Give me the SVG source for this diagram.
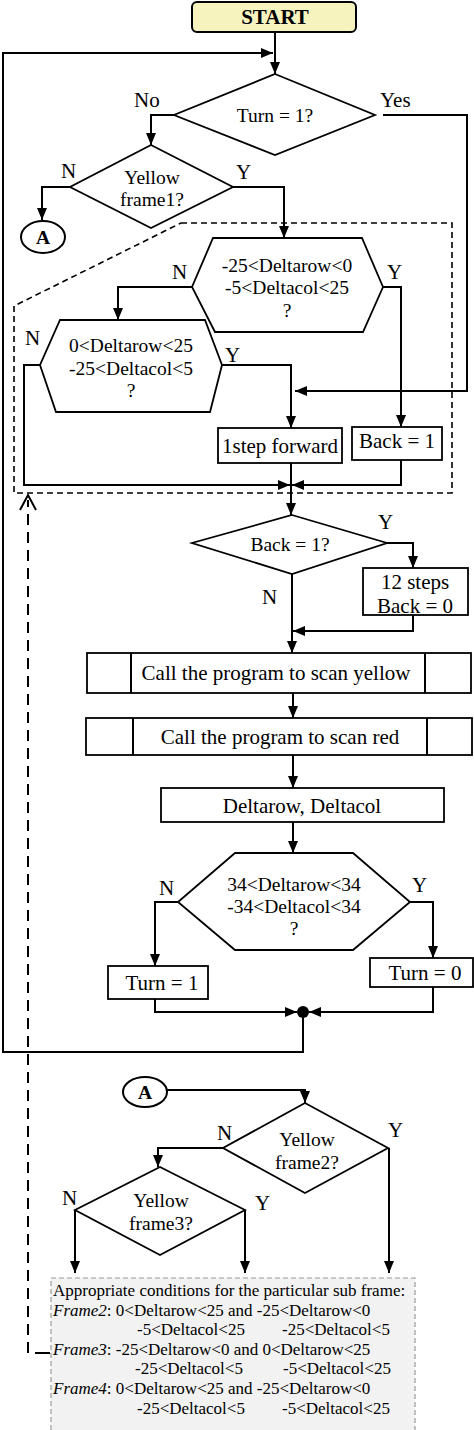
<svg xmlns="http://www.w3.org/2000/svg" width="474" height="1430" viewBox="0 0 474 1430">
<style>
.ln{stroke:#000;stroke-width:2;fill:none}
.sh{fill:#fff;stroke:#000;stroke-width:1.8}
text{font-family:"Liberation Serif","Times New Roman",serif;font-size:21px;fill:#000}
.c{text-anchor:middle}
.d{font-size:19.5px}
.s{font-size:17px}
.b{font-weight:bold}
</style>
<defs>
<marker id="ah" markerWidth="12" markerHeight="10" refX="12" refY="5" orient="auto" markerUnits="userSpaceOnUse"><path d="M0,0 L12,5 L0,10 z" fill="#000"/></marker>
</defs>
<rect width="474" height="1430" fill="#fff"/>

<g id="connectors">
<path class="ln" d="M275,32 V74" marker-end="url(#ah)"/>
<path class="ln" d="M303,1012 V1052 H3 V53 H273" marker-end="url(#ah)"/>
<path class="ln" d="M174,115 H151 V145" marker-end="url(#ah)"/>
<path class="ln" d="M383,115 H467 V391 H295" marker-end="url(#ah)"/>
<path class="ln" d="M70,187 H42 V220" marker-end="url(#ah)"/>
<path class="ln" d="M233,187 H284 V238" marker-end="url(#ah)"/>
<path class="ln" d="M192,287 H118 V320" marker-end="url(#ah)"/>
<path class="ln" d="M383,287 H401 V427" marker-end="url(#ah)"/>
<path class="ln" d="M222,365 H291 V428" marker-end="url(#ah)"/>
<path class="ln" d="M40,365 H24 V485 H290" marker-end="url(#ah)"/>
<path class="ln" d="M401,460 V485 H292" marker-end="url(#ah)"/>
<path class="ln" d="M291,463 V515" marker-end="url(#ah)"/>
<path class="ln" d="M387,543 H413 V568" marker-end="url(#ah)"/>
<path class="ln" d="M413,615 V631 H293" marker-end="url(#ah)"/>
<path class="ln" d="M292,574 V653" marker-end="url(#ah)"/>
<path class="ln" d="M293,693 V718" marker-end="url(#ah)"/>
<path class="ln" d="M293,755 V788" marker-end="url(#ah)"/>
<path class="ln" d="M293,822 V853" marker-end="url(#ah)"/>
<path class="ln" d="M178,902 H155 V966" marker-end="url(#ah)"/>
<path class="ln" d="M410,902 H433 V958" marker-end="url(#ah)"/>
<path class="ln" d="M155,999 V1012 H297" marker-end="url(#ah)"/>
<path class="ln" d="M433,987 V1012 H309" marker-end="url(#ah)"/>
<circle cx="303" cy="1012" r="6" fill="#000"/>
<path class="ln" d="M167,1090 H305 V1103" marker-end="url(#ah)"/>
<path class="ln" d="M223,1148 H158 V1167" marker-end="url(#ah)"/>
<path class="ln" d="M75,1210 V1273" marker-end="url(#ah)"/>
<path class="ln" d="M245,1210 V1273" marker-end="url(#ah)"/>
<path class="ln" d="M389,1148 V1273" marker-end="url(#ah)"/>
<path d="M50,1353 H35" stroke="#000" stroke-width="2" fill="none"/>
<path d="M28,1353 V500" stroke="#000" stroke-width="2" fill="none" stroke-dasharray="11,7"/>
<polyline points="20,510 28,495 36,510" stroke="#000" stroke-width="2" fill="none"/>
</g>

<g id="dashed-frame">
<polygon points="181,223 452,223 452,493 14,493 14,306" fill="none" stroke="#000" stroke-width="1.6" stroke-dasharray="6,4"/>
</g>

<g id="start">
<rect x="192" y="2" width="164" height="30" rx="5" fill="#f7f3bf" stroke="#000" stroke-width="2"/>
<text class="c b" x="275" y="24">START</text>
</g>

<g id="turn1">
<polygon class="sh" points="275,74 375,115 275,155 174,115"/>
<text class="c d" x="275" y="122">Turn = 1?</text>
<text x="134" y="107">No</text>
<text x="380" y="107">Yes</text>
</g>

<g id="yf1">
<polygon class="sh" points="151,145 233,187 151,228 70,187"/>
<text class="c d" x="152" y="184">Yellow</text>
<text class="c d" x="152" y="206">frame1?</text>
<text x="61" y="178">N</text>
<text x="236" y="179">Y</text>
</g>

<g id="connA1">
<ellipse cx="43" cy="237" rx="22" ry="16" fill="#fff" stroke="#000" stroke-width="2"/>
<text class="c b d" x="43" y="244">A</text>
</g>

<g id="hex1">
<polygon class="sh" points="213,238 362,238 383,287 363,332 215,332 192,287"/>
<text class="c d" x="287" y="272">-25&lt;Deltarow&lt;0</text>
<text class="c d" x="287" y="294">-5&lt;Deltacol&lt;25</text>
<text class="c d" x="287" y="317">?</text>
<text x="172" y="279">N</text>
<text x="387" y="279">Y</text>
</g>

<g id="hex2">
<polygon class="sh" points="60,320 205,320 222,365 210,412 56,412 40,365"/>
<text class="c d" x="131" y="352">0&lt;Deltarow&lt;25</text>
<text class="c d" x="131" y="375">-25&lt;Deltacol&lt;5</text>
<text class="c d" x="131" y="397">?</text>
<text x="25" y="345">N</text>
<text x="225" y="362">Y</text>
</g>

<g id="step1">
<rect class="sh" x="218" y="428" width="124" height="35"/>
<text class="c" x="280" y="453">1step forward</text>
</g>

<g id="back1">
<rect class="sh" x="352" y="427" width="90" height="33"/>
<text class="c" x="397" y="448">Back = 1</text>
</g>

<g id="backq">
<polygon class="sh" points="292,515 387,543 292,574 192,543"/>
<text class="c d" x="290" y="551">Back = 1?</text>
<text x="378" y="529">Y</text>
<text x="262" y="604">N</text>
</g>

<g id="steps12">
<rect class="sh" x="363" y="568" width="105" height="47"/>
<text class="c" x="415" y="589">12 steps</text>
<text class="c" x="415" y="613">Back = 0</text>
</g>

<g id="scanyellow">
<rect class="sh" x="87" y="653" width="384" height="40"/>
<line class="ln" x1="131" y1="653" x2="131" y2="693" stroke-width="1.8"/>
<line class="ln" x1="425" y1="653" x2="425" y2="693" stroke-width="1.8"/>
<text class="c" x="276" y="680">Call the program to scan yellow</text>
</g>

<g id="scanred">
<rect class="sh" x="86" y="718" width="386" height="37"/>
<line class="ln" x1="133" y1="718" x2="133" y2="755" stroke-width="1.8"/>
<line class="ln" x1="427" y1="718" x2="427" y2="755" stroke-width="1.8"/>
<text class="c" x="280" y="744">Call the program to scan red</text>
</g>

<g id="delta">
<rect class="sh" x="161" y="788" width="283" height="34"/>
<text class="c" x="302" y="813">Deltarow, Deltacol</text>
</g>

<g id="hex3">
<polygon class="sh" points="235,853 353,853 410,902 353,950 235,950 178,902"/>
<text class="c d" x="294" y="891">34&lt;Deltarow&lt;34</text>
<text class="c d" x="294" y="913">-34&lt;Deltacol&lt;34</text>
<text class="c d" x="294" y="935">?</text>
<text x="159" y="895">N</text>
<text x="412" y="892">Y</text>
</g>

<g id="turn1box">
<rect class="sh" x="108" y="966" width="100" height="33"/>
<text class="c" x="162" y="990">Turn = 1</text>
</g>

<g id="turn0box">
<rect class="sh" x="370" y="958" width="103" height="29"/>
<text class="c" x="425" y="980">Turn = 0</text>
</g>

<g id="connA2">
<ellipse cx="145" cy="1092" rx="22" ry="15" fill="#fff" stroke="#000" stroke-width="2"/>
<text class="c b d" x="145" y="1099">A</text>
</g>

<g id="yf2">
<polygon class="sh" points="305,1103 388,1148 305,1193 223,1148"/>
<text class="c d" x="307" y="1146">Yellow</text>
<text class="c d" x="307" y="1169">frame2?</text>
<text x="217" y="1140">N</text>
<text x="388" y="1137">Y</text>
</g>

<g id="yf3">
<polygon class="sh" points="160,1167 245,1210 160,1255 75,1210"/>
<text class="c d" x="161" y="1207">Yellow</text>
<text class="c d" x="161" y="1230">frame3?</text>
<text x="62" y="1205">N</text>
<text x="255" y="1210">Y</text>
</g>

<g id="conditions">
<rect x="51" y="1278" width="364" height="160" fill="#f2f2f2" stroke="#999" stroke-width="1.2" stroke-dasharray="5,3"/>
<text class="s" x="53" y="1296">Appropriate conditions for the particular sub frame:</text>
<text class="s" x="53" y="1316"><tspan font-style="italic">Frame2</tspan>: 0&lt;Deltarow&lt;25 and -25&lt;Deltarow&lt;0</text>
<text class="s" x="137" y="1335">-5&lt;Deltacol&lt;25</text>
<text class="s" x="282" y="1335">-25&lt;Deltacol&lt;5</text>
<text class="s" x="53" y="1355"><tspan font-style="italic">Frame3</tspan>: -25&lt;Deltarow&lt;0 and 0&lt;Deltarow&lt;25</text>
<text class="s" x="135" y="1374">-25&lt;Deltacol&lt;5</text>
<text class="s" x="283" y="1374">-5&lt;Deltacol&lt;25</text>
<text class="s" x="53" y="1394"><tspan font-style="italic">Frame4</tspan>: 0&lt;Deltarow&lt;25 and -25&lt;Deltarow&lt;0</text>
<text class="s" x="137" y="1414">-25&lt;Deltacol&lt;5</text>
<text class="s" x="282" y="1414">-5&lt;Deltacol&lt;25</text>
</g>
</svg>
